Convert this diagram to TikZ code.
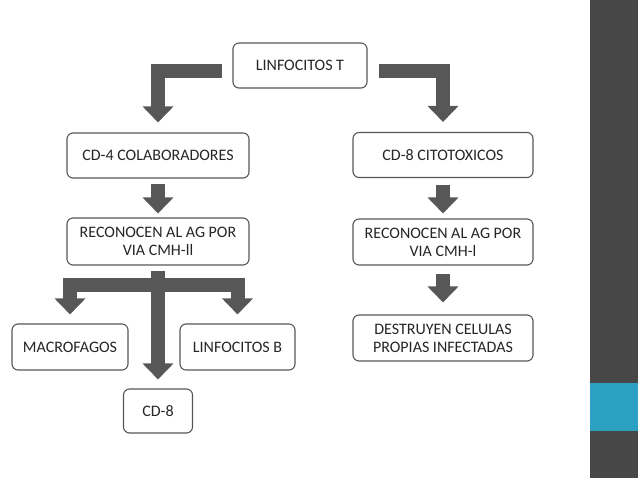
\documentclass[tikz,border=0pt]{standalone}
\usepackage{fontspec}
\setmainfont{Carlito}
\usetikzlibrary{arrows.meta,calc}
\definecolor{sidebar}{HTML}{474747}
\definecolor{accent}{HTML}{2CA1C1}
\definecolor{arrowgray}{HTML}{575757}
\definecolor{txt}{HTML}{262626}

\begin{document}
\begin{tikzpicture}[x=1pt,y=-1pt,
  box/.style={draw=arrowgray,line width=1.1pt,rounded corners=6pt,fill=white,text=txt,align=center,font=\fontsize{16}{18}\selectfont,inner sep=2pt},
  blk/.style={draw=arrowgray,line width=14pt,-{Triangle[width=30pt,length=16pt]}}]
\useasboundingbox (0,0) rectangle (638,478);
\fill[sidebar] (590,0) rectangle (638,478); \fill[accent] (590,383) rectangle (638,431);
% boxes
\node[box,minimum width=134pt,minimum height=45pt] (lt) at (300,65.5) {LINFOCITOS T};
\node[box,minimum width=182pt,minimum height=45pt] (cd4) at (158,155.5) {CD-4 COLABORADORES};
\node[box,minimum width=180pt,minimum height=45pt] (cd8) at (443,155) {CD-8 CITOTOXICOS};
\node[box,minimum width=182pt,minimum height=47pt] (rl) at (158,241.5) {RECONOCEN AL AG POR\\VIA CMH-ll};
\node[box,minimum width=180pt,minimum height=46pt] (rr) at (443,242) {RECONOCEN AL AG POR\\VIA CMH-l};
\node[box,minimum width=180pt,minimum height=46pt] (des) at (443,338) {DESTRUYEN CELULAS\\PROPIAS INFECTADAS};
\node[box,minimum width=116pt,minimum height=46pt] (mac) at (70,347) {MACROFAGOS};
\node[box,minimum width=115pt,minimum height=46pt] (lb) at (237.5,347) {LINFOCITOS B};
\node[box,minimum width=69pt,minimum height=44pt] (cd8b) at (158,411) {CD-8};
% arrows
\draw[blk,shorten >=10pt] ([shift={(-10,6)}]lt.west) -| (cd4.north);
\draw[blk,shorten >=10pt] ([shift={(11,6)}]lt.east) -| (cd8.north);
\draw[blk,shorten <=5pt,shorten >=4pt] (cd4) -- (rl);
\draw[blk,shorten <=7pt,shorten >=5pt] (cd8) -- (rr);
\draw[blk,shorten <=8pt,shorten >=12pt] (rr) -- (des);
\coordinate (br) at ($(rl.south)+(0,19)$);
\draw[blk,shorten >=9pt] (br) -| (mac.north); \draw[blk,shorten >=9pt] (br) -| (lb.north);
\draw[blk,shorten <=5pt,shorten >=9pt] (rl) -- (cd8b);
\end{tikzpicture}
\end{document}
